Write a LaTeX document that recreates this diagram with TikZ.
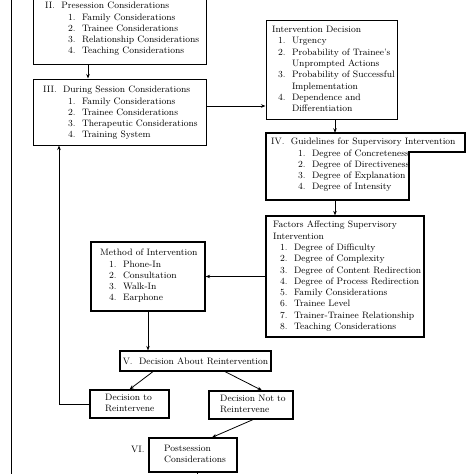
\documentclass[tikz,border=0pt]{standalone}
\usetikzlibrary{arrows.meta}
\newcommand\hng{\phantom{0.~~}}
\begin{document}
\begin{tikzpicture}[x=1pt,y=-1pt,
  box/.style={draw,line width=1pt,inner sep=0pt},
  txt/.style={inner sep=0pt,anchor=north west,align=left,font=\fontsize{9.3}{11.3}\selectfont},
  ln/.style={line width=0.8pt},
  arr/.style={line width=0.8pt,-{Stealth[length=4.5pt,width=3.5pt]}}]
\useasboundingbox (0,0) rectangle (474,474);
\clip (0,0) rectangle (474,474);
\fill[white] (0,0) rectangle (474,474);
% boxes
\node[box,minimum width=173pt,minimum height=69pt] (pre) at (119.5,29.5) {};
\node[box,minimum width=173pt,minimum height=66pt] (dur) at (119.5,112) {};
\node[box,minimum width=131pt,minimum height=99pt] (idb) at (331.5,69.5) {};
\node[inner sep=0pt,minimum width=143pt,minimum height=67pt] (gd) at (337.5,166.5) {};
\draw[line width=1.8pt] (gd.north west) -- ([xshift=56pt]gd.north east) -- ([xshift=56pt,yshift=-19pt]gd.north east) -- ([yshift=-19pt]gd.north east) -- (gd.south east) -- (gd.south west) -- cycle;
\node[box,line width=1.3pt,minimum width=158pt,minimum height=121pt] (fac) at (345,276.5) {};
\node[box,line width=1.2pt,minimum width=114pt,minimum height=69pt] (met) at (148,276.5) {};
\node[box,line width=1.2pt,minimum width=151pt,minimum height=20pt] (dec) at (195.5,361) {};
\node[box,line width=1.2pt,minimum width=79pt,minimum height=28pt] (dtr) at (129.5,404) {};
\node[box,line width=1.2pt,minimum width=84pt,minimum height=28pt] (dnt) at (251,405) {};
\node[box,line width=1.2pt,minimum width=88pt,minimum height=34pt] (post) at (193,455) {};
% texts
\node[txt] (tpre) at (45,2) {II.~~Presession Considerations\\
 \hspace*{23pt}1.~~Family Considerations\\
 \hspace*{23pt}2.~~Trainee Considerations\\
 \hspace*{23pt}3.~~Relationship Considerations\\
 \hspace*{23pt}4.~~Teaching Considerations};
\node[txt] (tdur) at (43,86) {III.~~During Session Considerations\\
 \hspace*{25pt}1.~~Family Considerations\\
 \hspace*{25pt}2.~~Trainee Considerations\\
 \hspace*{25pt}3.~~Therapeutic Considerations\\
 \hspace*{25pt}4.~~Training System};
\node[txt] (tidb) at (272,26) {Intervention Decision\\
 \hspace*{6pt}1.~~Urgency\\
 \hspace*{6pt}2.~~Probability of Trainee’s\\
 \hspace*{6pt}\hng Unprompted Actions\\
 \hspace*{6pt}3.~~Probability of Successful\\
 \hspace*{6pt}\hng Implementation\\
 \hspace*{6pt}4.~~Dependence and\\
 \hspace*{6pt}\hng Differentiation};
\node[txt] (tgd) at (271,138) {IV.~~Guidelines for Supervisory Intervention\\
 \hspace*{27pt}1.~~Degree of Concreteness\\
 \hspace*{27pt}2.~~Degree of Directiveness\\
 \hspace*{27pt}3.~~Degree of Explanation\\
 \hspace*{27pt}4.~~Degree of Intensity};
\node[txt] (tfac) at (273,221) {Factors Affecting Supervisory\\
 Intervention\\
 \hspace*{7pt}1.~~Degree of Difficulty\\
 \hspace*{7pt}2.~~Degree of Complexity\\
 \hspace*{7pt}3.~~Degree of Content Redirection\\
 \hspace*{7pt}4.~~Degree of Process Redirection\\
 \hspace*{7pt}5.~~Family Considerations\\
 \hspace*{7pt}6.~~Trainee Level\\
 \hspace*{7pt}7.~~Trainer-Trainee Relationship\\
 \hspace*{7pt}8.~~Teaching Considerations};
\node[txt] (tmet) at (100,249) {Method of Intervention\\
 \hspace*{9pt}1.~~Phone-In\\
 \hspace*{9pt}2.~~Consultation\\
 \hspace*{9pt}3.~~Walk-In\\
 \hspace*{9pt}4.~~Earphone};
\node[inner sep=0pt,font=\fontsize{9.3}{11.3}\selectfont] (tdec) at (dec.center) {V.~~Decision About Reintervention};
\node[txt] (tdtr) at (105,394) {Decision to\\Reintervene};
\node[txt] (tdnt) at (220,395) {Decision Not to\\Reintervene};
\node[txt] (tpost) at (164,445) {Postsession\\Considerations};
\node[inner sep=0pt,anchor=west,font=\fontsize{9.3}{11.3}\selectfont] (tvi) at (131,449) {VI.};
% connectors
\coordinate (ltop) at (11,-5);
\coordinate (lbot) at (11,480);
\draw[ln] (ltop) -- (lbot);
\draw[arr] ([xshift=-31.5pt]pre.south) -- ([xshift=-31.5pt]dur.north);
\draw[arr] ([yshift=6pt]dur.east) -- ([yshift=6pt]dur.east -| idb.west);
\draw[arr] ([xshift=3.5pt]idb.south) -- ([xshift=3.5pt]idb.south |- gd.north);
\draw[arr] ([xshift=-2.5pt]gd.south) -- ([xshift=-2.5pt]gd.south |- fac.north);
\draw[arr] (fac.west) -- (fac.west -| met.east);
\draw[arr] (met.south) -- (met.south |- dec.north);
\draw[arr] ([xshift=-42.5pt]dec.south) -- (dtr.north);
\draw[arr] ([xshift=29.5pt]dec.south) -- ([xshift=11pt]dnt.north);
\draw[arr] ([xshift=2pt]dnt.south) -- ([xshift=19pt]post.north);
\draw[arr] (dtr.west) -| ([xshift=-60.5pt]dur.south);
\coordinate (pend) at (197,480);
\draw[ln] ([xshift=4pt]post.south) -- (pend);
\end{tikzpicture}
\end{document}
